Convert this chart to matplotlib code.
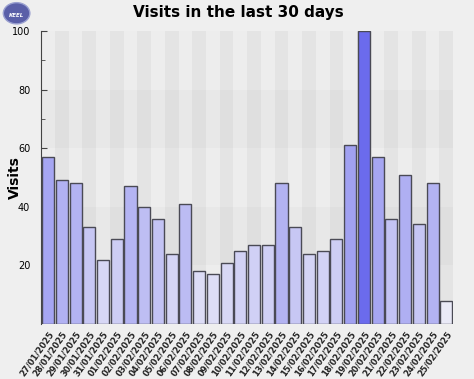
import matplotlib
matplotlib.use("Agg")
import matplotlib.pyplot as plt
import numpy as np
from matplotlib.patches import Circle

fechas = ["27/01/2025", "28/01/2025", "29/01/2025", "30/01/2025", "31/01/2025",
          "01/02/2025", "02/02/2025", "03/02/2025", "04/02/2025", "05/02/2025",
          "06/02/2025", "07/02/2025", "08/02/2025", "09/02/2025", "10/02/2025",
          "11/02/2025", "12/02/2025", "13/02/2025", "14/02/2025", "15/02/2025",
          "16/02/2025", "17/02/2025", "18/02/2025", "19/02/2025", "20/02/2025",
          "21/02/2025", "22/02/2025", "23/02/2025", "24/02/2025", "25/02/2025"]
visitas = [57, 49, 48, 33, 22, 29, 47, 40, 36, 24,
           41, 18, 17, 21, 25, 27, 27, 48, 33, 24,
           25, 29, 61, 100, 57, 36, 51, 34, 48, 8]

fig = plt.figure(figsize=(4.74, 3.79), dpi=100, facecolor="#efefef")
ax = fig.add_axes([0.087, 0.145, 0.869, 0.773])
ax.set_facecolor("#ededed")

n = len(visitas)
x = np.arange(n)

# fondo: franjas verticales y bandas horizontales
for i in range(n):
    if i % 2 == 1:
        ax.axvspan(i - 0.5, i + 0.5, color="#e4e4e4", zorder=0, lw=0)
for y0 in (20, 60):
    ax.axhspan(y0, y0 + 20, color="#000000", alpha=0.02, zorder=0, lw=0)

# color segun valor
blanco = np.array([0.96, 0.96, 0.97])
azul = np.array([0.42, 0.42, 0.93])
colores = []
for v in visitas:
    t = v / max(visitas)
    colores.append(tuple(blanco + (azul - blanco) * t))

ax.bar(x, visitas, width=0.88, color=colores, edgecolor="#4a4a55", linewidth=1.0, zorder=3)

ax.set_xlim(-0.5, n - 0.5)
ax.set_ylim(0, 100)
ax.set_xticks(x)
ax.set_xticklabels(fechas, rotation=55, ha="right", rotation_mode="anchor",
                   fontsize=6, fontweight="bold", color="#222222")
ax.tick_params(axis="x", length=0, pad=4)
ax.set_yticks([20, 40, 60, 80, 100])
ax.set_yticks([10, 30, 50, 70, 90], minor=True)
ax.tick_params(axis="y", which="both", direction="in", color="#444444")
ax.tick_params(axis="y", which="major", length=4, labelsize=7, pad=8)
ax.tick_params(axis="y", which="minor", length=3)

for lado in ("top", "right", "bottom"):
    ax.spines[lado].set_visible(False)
ax.spines["left"].set_color("#444444")

ax.set_ylabel("Visits", fontsize=10, fontweight="bold")
ax.yaxis.set_label_coords(-0.048, 0.5)
fig.text(0.502, 0.968, "Visits in the last 30 days", ha="center", va="center",
         fontsize=11, fontweight="bold")

# logo
logo = Circle((0.035, 0.965), 0.028, transform=fig.transFigure,
              facecolor="#5a5fa8", edgecolor="#9aa0d0", lw=1, figure=fig)
fig.patches.append(logo)
fig.text(0.035, 0.958, "KEEL", ha="center", va="center", fontsize=4,
         color="white", fontweight="bold", style="italic")

fig.savefig("out.png", dpi=100, facecolor=fig.get_facecolor())
